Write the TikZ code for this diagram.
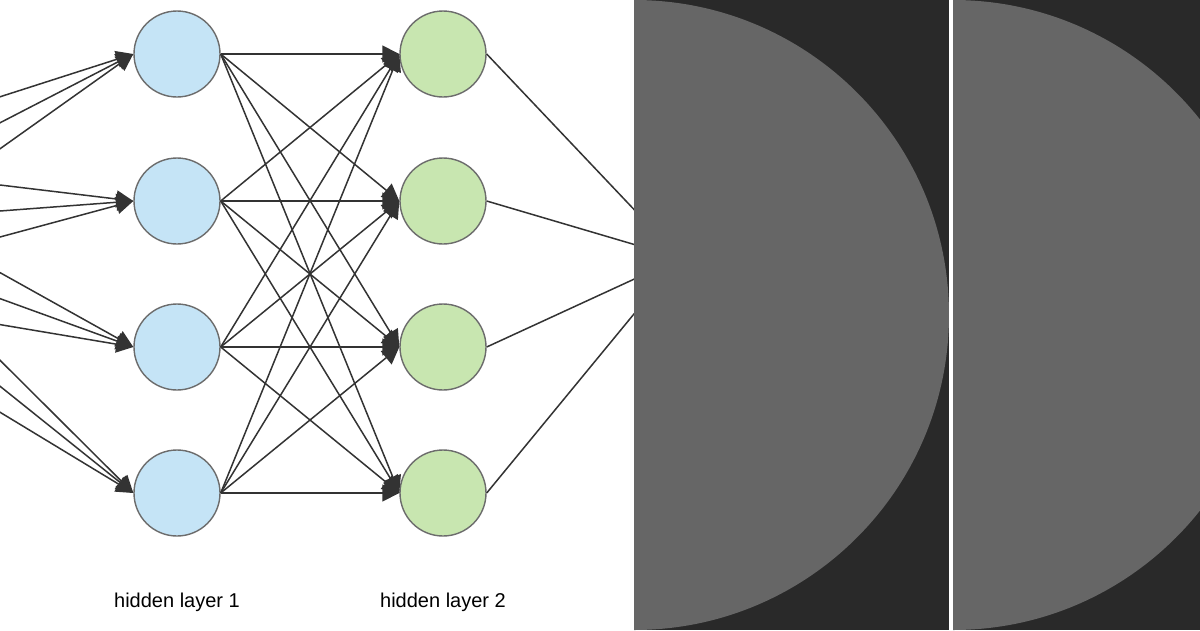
\documentclass[tikz,border=0pt]{standalone}
\usepackage{fontspec}
\setmainfont{Liberation Sans}
\usetikzlibrary{arrows.meta}
\definecolor{hb}{HTML}{C5E4F6}
\definecolor{hg}{HTML}{C8E6B0}
\begin{document}
\begin{tikzpicture}[x=1pt,y=-1pt,
  neuron/.style={circle,draw=gray!85!black,line width=1.4pt,minimum size=86pt,inner sep=0pt},
  h1/.style={neuron,fill=hb},
  h2/.style={neuron,fill=hg},
  edge/.style={draw=black!80,line width=1.5pt,-{Triangle[length=17pt,width=17pt]}},
  plain/.style={draw=black!80,line width=1.5pt},
  lab/.style={font=\fontsize{20pt}{24pt}\selectfont}]
\useasboundingbox (0,0) rectangle (1200,630);
\fill[white] (0,0) rectangle (1200,630);
\foreach \i/\y in {1/54,2/201,3/347,4/493}{
  \node[h1] (a\i) at (177,\y) {};
  \node[h2] (b\i) at (443,\y) {};
}
\foreach \i/\y in {1/161,2/226,3/291}{\coordinate (in\i) at (-200,\y);}
\coordinate (out) at (680,258);
\begin{scope}
\clip (0,0) rectangle (634,630);
\foreach \i in {1,2,3}{\foreach \j in {1,...,4}{\draw[edge] (in\i) -- (a\j.west);}}
\end{scope}
\foreach \i in {1,...,4}{\foreach \j in {1,...,4}{\draw[edge] (a\i.east) -- (b\j.west);}}
\foreach \i in {1,...,4}{\draw[plain] (b\i.east) -- (out);}
\node[lab] (t1) at (177,602) {hidden layer 1};
\node[lab] (t2) at (443,602) {hidden layer 2};
\fill[black!84] (634,0) rectangle (1200,630);
\begin{scope}
\clip (634,0) rectangle (949,630);
\fill[black!60] (634,315) circle (315);
\end{scope}
\fill[white] (949,0) rectangle (953,630);
\begin{scope}
\clip (953,0) rectangle (1200,630);
\fill[black!60] (953,315) circle (315);
\end{scope}
\end{tikzpicture}
\end{document}
